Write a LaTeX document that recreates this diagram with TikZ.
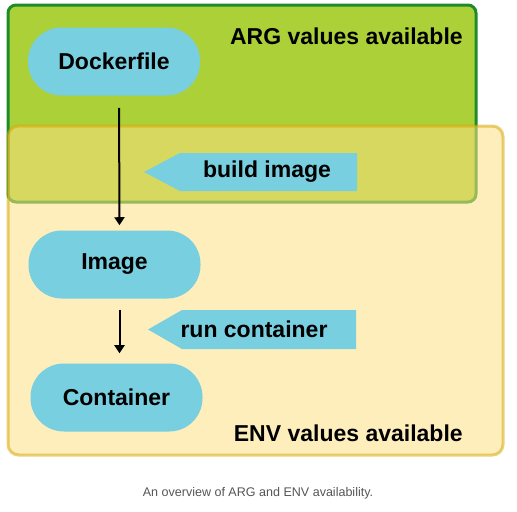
\documentclass[tikz,border=0pt]{standalone}
\usepackage{fontspec}
\setmainfont{Liberation Sans}
\usetikzlibrary{arrows.meta}

\definecolor{argfill}{RGB}{172,208,55}
\definecolor{argline}{RGB}{30,140,40}
\definecolor{envfill}{RGB}{251,224,131}
\definecolor{envline}{RGB}{215,168,10}
\definecolor{pillblue}{RGB}{119,207,223}
\definecolor{captiongray}{RGB}{85,85,85}

\tikzset{
    pill/.style={fill=pillblue, rounded corners=25pt, minimum width=129pt,
        minimum height=51pt, font=\fontsize{17.25}{20}\selectfont\bfseries},
    label/.style={font=\fontsize{17.25}{20}\selectfont\bfseries, inner sep=0pt},
    flow/.style={-{Triangle[length=6pt,width=7.5pt]}, line width=1.5pt}
}

\begin{document}
\begin{tikzpicture}[x=0.75pt, y=-0.75pt]
    \useasboundingbox (0,0) rectangle (517,511);

    % ARG area
    \draw[line width=2.25pt, argline, fill=argfill, rounded corners=6pt] (8,5) rectangle (476,202);
    \node[label, anchor=east] (argtext) at (463,36) {ARG values available};

    % ENV area (see-through)
    \draw[line width=2.25pt, envline, fill=envfill, opacity=0.55, rounded corners=8pt] (8,126) rectangle (503,455);
    \node[label, anchor=east] (envtext) at (463,433) {ENV values available};

    % Steps
    \node[pill] (dockerfile) at (114,61.5) {Dockerfile};
    \node[pill] (image) at (114.5,264.5) {Image};
    \node[pill] (container) at (116.5,397.5) {Container};

    % Tags
    \fill[pillblue] (144,172) -- (180,153) -- (357,153) -- (357,191) -- (180,191) -- cycle;
    \node[label] (build) at (267,172) {build image};
    \fill[pillblue] (148,329.5) -- (182,310) -- (356,310) -- (356,349) -- (182,349) -- cycle;
    \node[label] (run) at (254,329.5) {run container};

    % Arrows
    \draw[flow, shorten <=9pt, shorten >=3.75pt] ([xshift=3.75pt]dockerfile.south) -- ([xshift=3.75pt]image.north);
    \draw[flow, shorten <=8.25pt, shorten >=7.5pt] ([xshift=3.75pt]image.south) -- ([xshift=2.25pt]container.north);

    % Caption
    \node[font=\fontsize{9.4}{11}\selectfont, text=captiongray] (caption) at (258,493) {An overview of ARG and ENV availability.};
\end{tikzpicture}
\end{document}
